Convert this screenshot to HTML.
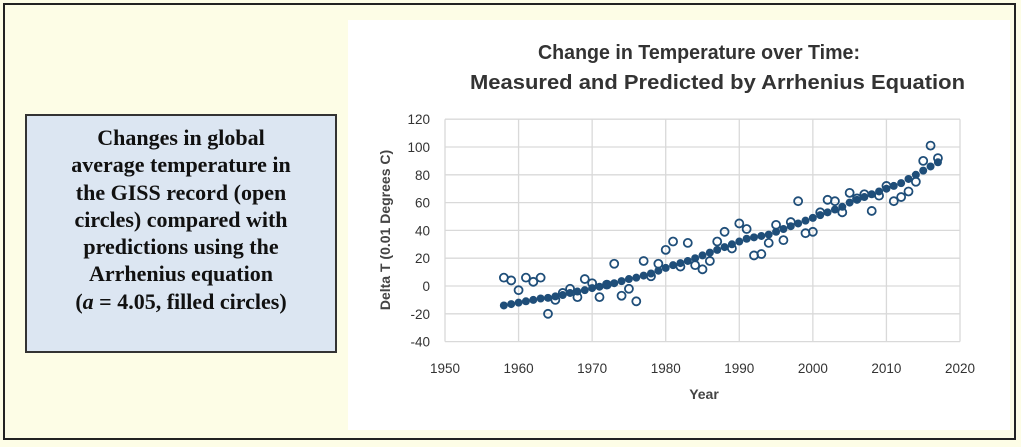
<!DOCTYPE html>
<html><head><meta charset="utf-8"><style>
body{margin:0;width:1021px;height:447px;background:#fdfde6;font-family:"Liberation Sans",sans-serif;overflow:hidden}
#frame{position:absolute;left:3px;top:3px;width:1013px;height:437px;border:2px solid #222;box-sizing:border-box}
#box{position:absolute;left:25px;top:114px;width:312px;height:239px;background:#dce6f2;border:2px solid #333;box-sizing:border-box;font-family:"Liberation Serif",serif;font-weight:bold;font-size:22px;line-height:27.3px;text-align:center;padding-top:8px;color:#111}
#panel{position:absolute;left:348px;top:20px;width:662px;height:410px;background:#fff}
</style></head><body>
<div id="frame"></div>
<div id="box">Changes in global<br>average temperature in<br>the GISS record (open<br>circles) compared with<br>predictions using the<br>Arrhenius equation<br>(<i>a</i> = 4.05, filled circles)</div>
<div id="panel"></div>
<svg id="chart" width="1021" height="447" style="position:absolute;left:0;top:0">
<text x="538" y="59" textLength="322" lengthAdjust="spacingAndGlyphs" font-size="20" font-weight="bold" fill="#333">Change in Temperature over Time:</text>
<text x="470" y="89" textLength="495" lengthAdjust="spacingAndGlyphs" font-size="20" font-weight="bold" fill="#333">Measured and Predicted by Arrhenius Equation</text>
<text x="704" y="399" text-anchor="middle" font-size="14" font-weight="bold" fill="#444">Year</text>
<text transform="translate(390,230) rotate(-90)" text-anchor="middle" font-size="14" font-weight="bold" fill="#444">Delta T (0.01 Degrees C)</text>
<g id="grid"></g><g id="marks"></g>
</svg>
<script>
const xTicks=[1950,1960,1970,1980,1990,2000,2010,2020];
const yTicks=[-40,-20,0,20,40,60,80,100,120];
const years=[];for(let y=1958;y<=2017;y++)years.push(y);
const measured=[6,4,-3,6,3,6,-20,-10,-5,-2,-8,5,2,-8,1,16,-7,-2,-11,18,7,16,26,32,14,31,15,12,18,32,39,27,45,41,22,23,31,44,33,46,61,38,39,53,62,61,53,67,63,66,54,65,72,61,64,68,75,90,101,92];
const predicted=[-14,-13,-12,-11,-10,-9,-8.5,-7.5,-6.5,-5,-4,-3,-1.5,-0.5,1,2,3.5,5,6,7.5,9,11,13,15,16.5,18,20,22,24,26,28,30,32,34,35,36,37,39,41,43,45,47,49,51,53,55,57,60,62,64,66,68,70,72,74,77,80,83,86,89];
const X=v=>445+(v-1950)*(515/70), Y=v=>286-v*(222.4/160);
const ns="http://www.w3.org/2000/svg";
const grid=document.getElementById('grid'),marks=document.getElementById('marks');
function mk(p,tag,a){const e=document.createElementNS(ns,tag);for(const k in a)e.setAttribute(k,a[k]);p.appendChild(e);return e;}
xTicks.forEach(t=>{
 const l=mk(grid,'line',{x1:X(t),x2:X(t),y1:Y(120),y2:Y(-40),stroke:'#d9d9d9','stroke-width':1.3});
 
 
 const tx=mk(grid,'text',{x:X(t),y:373,'text-anchor':'middle','font-size':13.5,fill:'#333'});tx.textContent=t;
 
 
});
yTicks.forEach(t=>{
 const l=mk(grid,'line',{x1:X(1950),x2:X(2020),y1:Y(t),y2:Y(t),stroke:'#d9d9d9','stroke-width':1.3});
 
 
 const tx=mk(grid,'text',{x:430,y:Y(t)+5,'text-anchor':'end','font-size':13.5,fill:'#333'});tx.textContent=t;
 
 
});
years.forEach((yr,i)=>{
 const c=mk(marks,'circle',{cx:X(yr),cy:Y(predicted[i]),r:4,fill:'#1f4e79'});
 
 
});
years.forEach((yr,i)=>{
 const c=mk(marks,'circle',{cx:X(yr),cy:Y(measured[i]),r:4,fill:'none',stroke:'#1f4e79','stroke-width':1.8});
 
 
});
</script>
</body></html>
